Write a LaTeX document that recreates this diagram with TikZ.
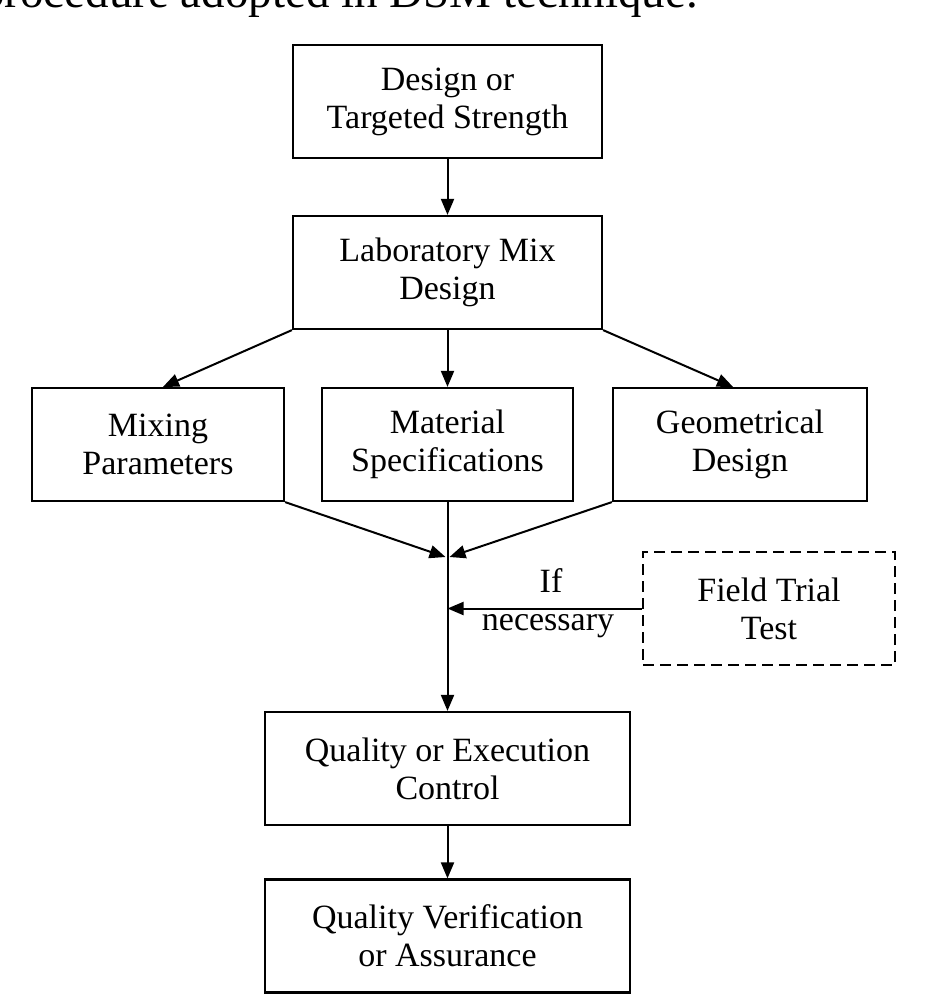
\documentclass[tikz,border=0pt]{standalone}
\usepackage{fontspec}
\setmainfont{Liberation Serif}
\usetikzlibrary{arrows.meta, positioning}

\begin{document}
\begin{tikzpicture}[x=1pt, y=-1pt,
    block/.style={draw, line width=2.2pt, minimum height=113pt, align=center,
        inner sep=0pt, font=\fontsize{34}{38}\selectfont},
    trialblock/.style={block, dash pattern=on 11pt off 6pt},
    lbl/.style={inner sep=0pt, anchor=base, font=\fontsize{34}{38}\selectfont},
    flow/.style={line width=2pt, -{Triangle[length=16pt, width=13pt]}}]

\useasboundingbox (0,0) rectangle (925,996);
\fill[white] (0,0) rectangle (925,996);

% caption line, cut by the top edge
\node[inner sep=0pt, anchor=base east, font=\fontsize{47}{52}\selectfont] (caption) at (698,7) {procedure adopted in DSM technique.};

\node[block, minimum width=309pt] (target) at (447.5,101.5) {Design or\\Targeted Strength};
\node[block, minimum width=309pt] (lab) at (447.5,272.5) {Laboratory Mix\\Design};
\node[block, minimum width=252pt] (mix) at (158,444.5) {Mixing\\Parameters};
\node[block, minimum width=251pt] (mat) at (447.5,444.5) {Material\\Specifications};
\node[block, minimum width=254pt] (geo) at (740,444.5) {Geometrical\\Design};
\node[trialblock, minimum width=252pt] (field) at (769,608.5) {Field Trial\\Test};
\node[block, minimum width=365pt] (control) at (447.5,768.5) {Quality or Execution\\Control};
\node[block, minimum width=365pt] (verify) at (447.5,936) {Quality Verification\\or Assurance};

\coordinate (merge) at (447.5,557);
\coordinate (join) at (447.5,608.5);

\draw[flow] (target) -- (lab);
\draw[flow] (lab.south west) -- ([xshift=5pt]mix.north);
\draw[flow] (lab) -- (mat);
\draw[flow] (lab.south east) -- ([xshift=-7pt]geo.north);
\draw[flow] (mix.south east) -- ([xshift=-2pt]merge);
\draw[flow] (geo.south west) -- ([xshift=2pt]merge);
\draw[flow] (mat) -- (control);
\draw[flow] (field) -- (join);
\draw[flow] (control) -- (verify);

\node[lbl] (iflbl) at (551,592) {If};
\node[lbl] (necess) at (548,630) {necessary};
\end{tikzpicture}
\end{document}
